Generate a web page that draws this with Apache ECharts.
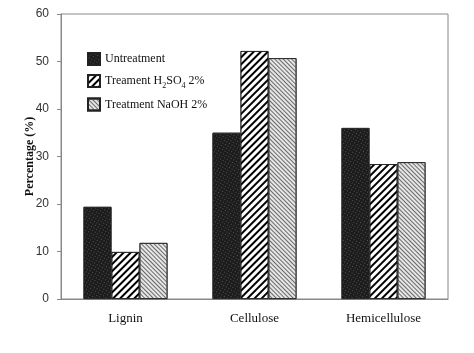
<!DOCTYPE html>
<html>
<head>
<meta charset="utf-8">
<script src="https://cdn.jsdelivr.net/npm/echarts@6/dist/echarts.min.js"></script>
<style>
  html, body { margin: 0; padding: 0; background: #fff; }
  #main { width: 474px; height: 353px; }
</style>
</head>
<body>
<div id="main"></div>
<script>
var categories = ['Lignin', 'Cellulose', 'Hemicellulose'];
var seriesNames = ['Untreatment', 'Treament H2SO4 2%', 'Treatment NaOH 2%'];
var untreatment = [19.4, 35.0, 36.0];
var h2so4 = [9.9, 52.2, 28.4];
var naoh = [11.8, 50.7, 28.8];
var yTicks = [0, 10, 20, 30, 40, 50, 60];

var chart = echarts.init(document.getElementById('main'));

// patterns for the three bars
var patterns = [
  { fill: '#1c1c1c', decal: { symbol: 'rect', symbolSize: 1, dashArrayX: [[1, 2]], dashArrayY: [1, 2], color: '#555' } },
  { fill: '#ffffff', decal: { symbol: 'rect', symbolSize: 1, dashArrayX: [1, 0], dashArrayY: [2, 3], rotation: -Math.PI / 4, color: '#000' } },
  { fill: '#e6e6e6', decal: { symbol: 'rect', symbolSize: 1, dashArrayX: [1, 0], dashArrayY: [1, 2], rotation: Math.PI / 4, color: '#6a6a6a' } }
];

var allData = [untreatment, h2so4, naoh];
var series = [];
for (var i = 0; i < 3; i++) {
  series.push({
    name: seriesNames[i],
    type: 'bar',
    data: allData[i],
    barWidth: 28,
    barGap: '0%',
    itemStyle: {
      color: patterns[i].fill,
      borderColor: '#222',
      borderWidth: 0.8,
      decal: patterns[i].decal
    }
  });
}

var option = {
  animation: false,
  aria: { enabled: true, decal: { show: true } },
  grid: { left: 61, right: 26, top: 14, bottom: 54, show: true, borderColor: '#888', borderWidth: 1 },
  legend: {
    orient: 'vertical',
    left: 82,
    top: 47,
    itemGap: 8,
    itemWidth: 12,
    itemHeight: 12,
    icon: 'rect',
    textStyle: {
      fontFamily: 'Liberation Serif',
      fontSize: 12,
      color: '#111',
      rich: {
        sub: { fontSize: 8, fontFamily: 'Liberation Serif', color: '#111', padding: [9, 0, 0, 0] }
      }
    },
    formatter: function (name) {
      if (name === seriesNames[1]) return 'Treament H{sub|2}SO{sub|4} 2%';
      return name;
    }
  },
  xAxis: {
    type: 'category',
    data: categories,
    axisLine: { lineStyle: { color: '#888' } },
    axisTick: { show: false },
    axisLabel: { fontFamily: 'Liberation Serif', fontSize: 13, color: '#111', margin: 13 }
  },
  yAxis: {
    type: 'value',
    min: yTicks[0],
    max: yTicks[yTicks.length - 1],
    interval: 10,
    name: 'Percentage (%)',
    nameLocation: 'middle',
    nameGap: 25,
    nameMoveOverlap: false,
    nameTextStyle: { fontFamily: 'Liberation Serif', fontWeight: 'bold', fontSize: 12, color: '#111' },
    axisLine: { show: true, lineStyle: { color: '#888' } },
    axisTick: { show: true, length: 4, lineStyle: { color: '#888' } },
    splitLine: { show: false },
    axisLabel: { fontFamily: 'Liberation Sans', fontSize: 12, color: '#333', margin: 12 }
  },
  series: series
};

chart.setOption(option);
</script>
</body>
</html>
